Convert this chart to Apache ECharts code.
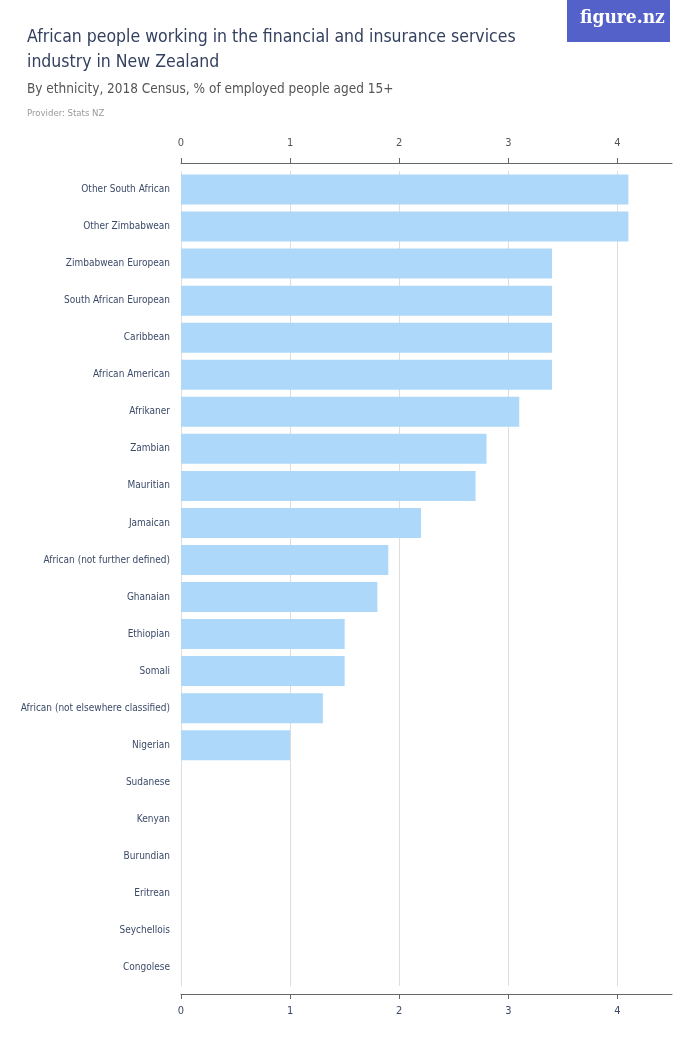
<!DOCTYPE html>
<html lang="en">
<head>
    <meta charset="UTF-8">
    <title>African people working in the financial and insurance services industry</title>
    <script src="https://cdn.jsdelivr.net/npm/echarts/dist/echarts.min.js"></script>
    <style>
        body { margin: 0; background: #fff; }
        #chart { width: 700px; height: 1050px; }
    </style>
</head>
<body>
<div id="chart"></div>
<script>
    // ethnic groups, top to bottom
    const groups = [
        'Other South African', 'Other Zimbabwean', 'Zimbabwean European', 'South African European',
        'Caribbean', 'African American', 'Afrikaner', 'Zambian', 'Mauritian', 'Jamaican',
        'African (not further defined)', 'Ghanaian', 'Ethiopian', 'Somali',
        'African (not elsewhere classified)', 'Nigerian', 'Sudanese', 'Kenyan', 'Burundian',
        'Eritrean', 'Seychellois', 'Congolese'
    ];
    // % of employed people aged 15+
    const shares = [4.1, 4.1, 3.4, 3.4, 3.4, 3.4, 3.1, 2.8, 2.7, 2.2, 1.9, 1.8, 1.5, 1.5, 1.3, 1.0, 0, 0, 0, 0, 0, 0];
    const tickValues = [0, 1, 2, 3, 4];

    const font = '"DejaVu Sans Condensed", "Roboto", sans-serif';
    const chart = echarts.init(document.getElementById('chart'));

    const valueAxis = (pos, offset, margin, labelColor) => ({
        type: 'value',
        position: pos,
        offset: offset,
        min: 0,
        max: 4.5,
        interval: 1,
        axisLine: { show: true, lineStyle: { color: '#666', width: 1 } },
        axisTick: { show: true, length: 5, customValues: tickValues, lineStyle: { color: '#666' } },
        axisLabel: {
            color: labelColor, fontFamily: font, fontSize: 11, margin: margin,
            customValues: tickValues
        },
        splitLine: { show: pos === 'top', lineStyle: { color: '#ddd' } }
    });

    chart.setOption({
        animation: false,
        title: [
            {
                text: 'African people working in the financial and insurance services\nindustry in New Zealand',
                left: 22, top: 20,
                textStyle: { fontFamily: font, fontSize: 17.5, fontWeight: 'normal', color: '#33405f', lineHeight: 25 }
            },
            {
                text: 'By ethnicity, 2018 Census, % of employed people aged 15+',
                left: 22, top: 77,
                textStyle: { fontFamily: font, fontSize: 13.5, fontWeight: 'normal', color: '#555' }
            },
            {
                text: 'Provider: Stats NZ',
                left: 22, top: 104,
                textStyle: { fontFamily: font, fontSize: 9.5, fontWeight: 'normal', color: '#999' }
            }
        ],
        graphic: [
            {
                type: 'rect', left: 567, top: 0,
                shape: { width: 103, height: 42 },
                style: { fill: '#5461c8' }
            },
            {
                type: 'text', left: 580, top: 9,
                style: { text: 'figure.nz', fill: '#fff', font: 'bold 19px "DejaVu Serif Condensed", "DejaVu Serif", serif' }
            }
        ],
        grid: { left: 181, right: 28, top: 171, bottom: 64, outerBoundsMode: 'none', containLabel: false },
        xAxis: [valueAxis('top', 8, 14, '#555'), valueAxis('bottom', 8, 12, '#3b4a68')],
        yAxis: {
            type: 'category',
            inverse: true,
            data: groups,
            axisLine: { show: false },
            axisTick: { show: false },
            axisLabel: { color: '#3b4a68', fontFamily: font, fontSize: 10, margin: 11 }
        },
        series: [{
            type: 'bar',
            data: shares,
            barCategoryGap: '19%',
            itemStyle: { color: '#add8fa' }
        }]
    });
</script>
</body>
</html>
